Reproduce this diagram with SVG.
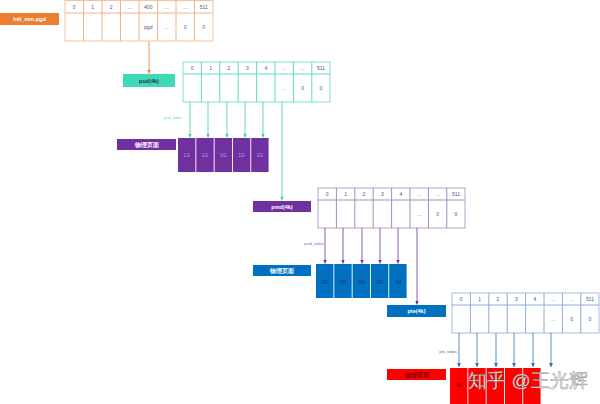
<svg xmlns="http://www.w3.org/2000/svg" width="600" height="404" viewBox="0 0 600 404">
<style>
text{font-family:"Liberation Sans",Arial,sans-serif;text-anchor:middle;dominant-baseline:central}
.c{font-size:5px;fill:#3B5A8A}
.g1{fill:#B99AD6}
.m2{fill:#1F3864}
.k4{fill:#7A0000}
.lb{font-size:5.5px;font-weight:bold}
.wh{fill:#fff}
.ix{font-size:4px}
.cell{fill:#fff;stroke-width:0.8}
</style>
<defs>
<marker id="aO" markerWidth="4" markerHeight="4" refX="4" refY="2" orient="auto" markerUnits="userSpaceOnUse"><path d="M0,0L4,2L0,4z" fill="#ED7D31"/></marker>
<marker id="aT" markerWidth="4" markerHeight="4" refX="4" refY="2" orient="auto" markerUnits="userSpaceOnUse"><path d="M0,0L4,2L0,4z" fill="#3CCFB0"/></marker>
<marker id="aP" markerWidth="4" markerHeight="4" refX="4" refY="2" orient="auto" markerUnits="userSpaceOnUse"><path d="M0,0L4,2L0,4z" fill="#7030A0"/></marker>
<marker id="aB" markerWidth="4" markerHeight="4" refX="4" refY="2" orient="auto" markerUnits="userSpaceOnUse"><path d="M0,0L4,2L0,4z" fill="#2E75B6"/></marker>
</defs>
<rect width="600" height="404" fill="#fff"/>

<!-- top pgd table -->
<g id="pgd-table" stroke="#F4B183">
<rect class="cell" x="65" y="0.5" width="148" height="40.5"/>
<line x1="65" y1="13" x2="213" y2="13"/>
<path d="M83.5,0.5V41M102,0.5V41M120.5,0.5V41M139,0.5V41M157.5,0.5V41M176,0.5V41M194.5,0.5V41" fill="none"/>
<g stroke="none">
<text class="c" x="74.25" y="6.5">0</text><text class="c" x="92.75" y="6.5">1</text><text class="c" x="111.25" y="6.5">2</text><text class="c" x="129.75" y="6.5">...</text><text class="c" x="148.25" y="6.5">400</text><text class="c" x="166.75" y="6.5">...</text><text class="c" x="185.25" y="6.5">...</text><text class="c" x="203.75" y="6.5">511</text>
<text class="c" x="148.25" y="27">pgd</text><text class="c" x="166.75" y="27">...</text><text class="c" x="185.25" y="27">0</text><text class="c" x="203.75" y="27">0</text>
</g>
</g>
<g id="init-mm-pgd"><rect x="0" y="13" width="59" height="12" fill="#ED7D31"/><text class="lb wh" x="29.5" y="19">Init_mm.pgd</text></g>

<!-- pud -->
<g id="pud-label"><rect x="123" y="74" width="52" height="13" fill="#3FD9B8"/><text class="lb" x="149" y="80.5" fill="#1E3A4A">pud(4k)</text></g>
<g id="pud-table" stroke="#5FDCC4">
<rect class="cell" x="183" y="62" width="147" height="40"/>
<line x1="183" y1="74" x2="330" y2="74"/>
<path d="M201.4,62V102M219.8,62V102M238.2,62V102M256.6,62V102M275,62V102M293.4,62V102M311.8,62V102" fill="none"/>
<g stroke="none">
<text class="c" x="192.2" y="68">0</text><text class="c" x="210.6" y="68">1</text><text class="c" x="229" y="68">2</text><text class="c" x="247.4" y="68">3</text><text class="c" x="265.8" y="68">4</text><text class="c" x="284.2" y="68">...</text><text class="c" x="302.6" y="68">...</text><text class="c" x="321" y="68">511</text>
<text class="c" x="284.2" y="88">...</text><text class="c" x="302.6" y="88">0</text><text class="c" x="321" y="88">0</text>
</g>
</g>
<g id="phys-1g">
<rect x="117" y="139" width="59" height="11" fill="#7030A0"/><text class="lb wh" x="146.5" y="144.5" font-family="'Noto Sans CJK SC',sans-serif">物理页面</text>
<g fill="#7030A0"><rect x="178" y="138" width="17.4" height="34"/><rect x="196.3" y="138" width="17.4" height="34"/><rect x="214.6" y="138" width="17.4" height="34"/><rect x="232.9" y="138" width="17.4" height="34"/><rect x="251.2" y="138" width="17.4" height="34"/></g>
<text class="c g1" x="186.7" y="155">1G</text><text class="c g1" x="205" y="155">1G</text><text class="c g1" x="223.3" y="155">1G</text><text class="c g1" x="241.6" y="155">1G</text><text class="c g1" x="259.9" y="155">1G</text>
</g>
<text class="ix" x="173" y="117.5" fill="#5FDCC4">pud_index</text>

<!-- pmd -->
<g id="pmd-label"><rect x="253" y="201" width="58" height="11" fill="#7030A0"/><text class="lb wh" x="282" y="206.5">pmd(4k)</text></g>
<g id="pmd-table" stroke="#A58BC0">
<rect class="cell" x="318" y="188" width="147" height="40"/>
<line x1="318" y1="200" x2="465" y2="200"/>
<path d="M336.4,188V228M354.8,188V228M373.2,188V228M391.6,188V228M410,188V228M428.4,188V228M446.8,188V228" fill="none"/>
<g stroke="none">
<text class="c" x="327.2" y="194">0</text><text class="c" x="345.6" y="194">1</text><text class="c" x="364" y="194">2</text><text class="c" x="382.4" y="194">3</text><text class="c" x="400.8" y="194">4</text><text class="c" x="419.2" y="194">...</text><text class="c" x="437.6" y="194">...</text><text class="c" x="456" y="194">511</text>
<text class="c" x="419.2" y="214">...</text><text class="c" x="437.6" y="214">0</text><text class="c" x="456" y="214">0</text>
</g>
</g>
<g id="phys-2m">
<rect x="253" y="265" width="58" height="11" fill="#0070C0"/><text class="lb wh" x="282" y="270.5" font-family="'Noto Sans CJK SC',sans-serif">物理页面</text>
<g fill="#0070C0"><rect x="316" y="264" width="17.4" height="34"/><rect x="334.3" y="264" width="17.4" height="34"/><rect x="352.6" y="264" width="17.4" height="34"/><rect x="370.9" y="264" width="17.4" height="34"/><rect x="389.2" y="264" width="17.4" height="34"/></g>
<text class="c m2" x="324.7" y="282">2M</text><text class="c m2" x="343" y="282">2M</text><text class="c m2" x="361.3" y="282">2M</text><text class="c m2" x="379.6" y="282">2M</text><text class="c m2" x="397.9" y="282">2M</text>
</g>
<text class="ix" x="314" y="243.5" fill="#8E6BB0">pmd_index</text>

<!-- pte -->
<g id="pte-label"><rect x="387" y="305" width="59" height="12" fill="#0070C0"/><text class="lb wh" x="416.5" y="311">pte(4k)</text></g>
<g id="pte-table" stroke="#8FAADC">
<rect class="cell" x="452" y="293" width="147" height="40"/>
<line x1="452" y1="305" x2="599" y2="305"/>
<path d="M470.4,293V333M488.8,293V333M507.2,293V333M525.6,293V333M544,293V333M562.4,293V333M580.8,293V333" fill="none"/>
<g stroke="none">
<text class="c" x="461.2" y="299">0</text><text class="c" x="479.6" y="299">1</text><text class="c" x="498" y="299">2</text><text class="c" x="516.4" y="299">3</text><text class="c" x="534.8" y="299">4</text><text class="c" x="553.2" y="299">...</text><text class="c" x="571.6" y="299">...</text><text class="c" x="590" y="299">511</text>
<text class="c" x="553.2" y="319">...</text><text class="c" x="571.6" y="319">0</text><text class="c" x="590" y="319">0</text>
</g>
</g>
<g id="phys-4k">
<rect x="387" y="369" width="59" height="11" fill="#FF0000"/><text class="lb" x="416.5" y="374.5" fill="#7A0000" font-family="'Noto Sans CJK SC',sans-serif">物理页面</text>
<g fill="#FF0000"><rect x="450" y="368" width="17.4" height="36"/><rect x="468.3" y="368" width="17.4" height="36"/><rect x="486.6" y="368" width="17.4" height="36"/><rect x="504.9" y="368" width="17.4" height="36"/><rect x="523.2" y="368" width="17.4" height="36"/></g>
<text class="c k4" x="458.7" y="385">4K</text>
</g>
<text class="ix" x="448" y="351.5" fill="#2E75B6">pte_index</text>

<!-- connectors -->
<g id="connectors" fill="none" stroke-width="0.8">
<path d="M149,41V73.5" stroke="#ED7D31" marker-end="url(#aO)"/>
<g stroke="#3CCFB0" marker-end="url(#aT)">
<path d="M190,102V137.5"/><path d="M208,102V137.5"/><path d="M227,102V137.5"/><path d="M245,102V137.5"/><path d="M263,102V137.5"/><path d="M282,102V200.5"/>
</g>
<g stroke="#7030A0" marker-end="url(#aP)">
<path d="M325,228V263.5"/><path d="M343,228V263.5"/><path d="M362,228V263.5"/><path d="M380,228V263.5"/><path d="M398,228V263.5"/><path d="M417,228V304.5"/>
</g>
<g stroke="#2E75B6" marker-end="url(#aB)">
<path d="M459,333V367"/><path d="M477,333V367"/><path d="M496,333V367"/><path d="M514,333V367"/><path d="M533,333V367"/><path d="M551,333V367"/>
</g>
</g>

<text x="528" y="380" font-size="19" fill="#fff" stroke="#555" stroke-width="0.6" stroke-opacity="0.6" font-family="'Noto Sans CJK SC',sans-serif">知乎 @王光辉</text>
</svg>
